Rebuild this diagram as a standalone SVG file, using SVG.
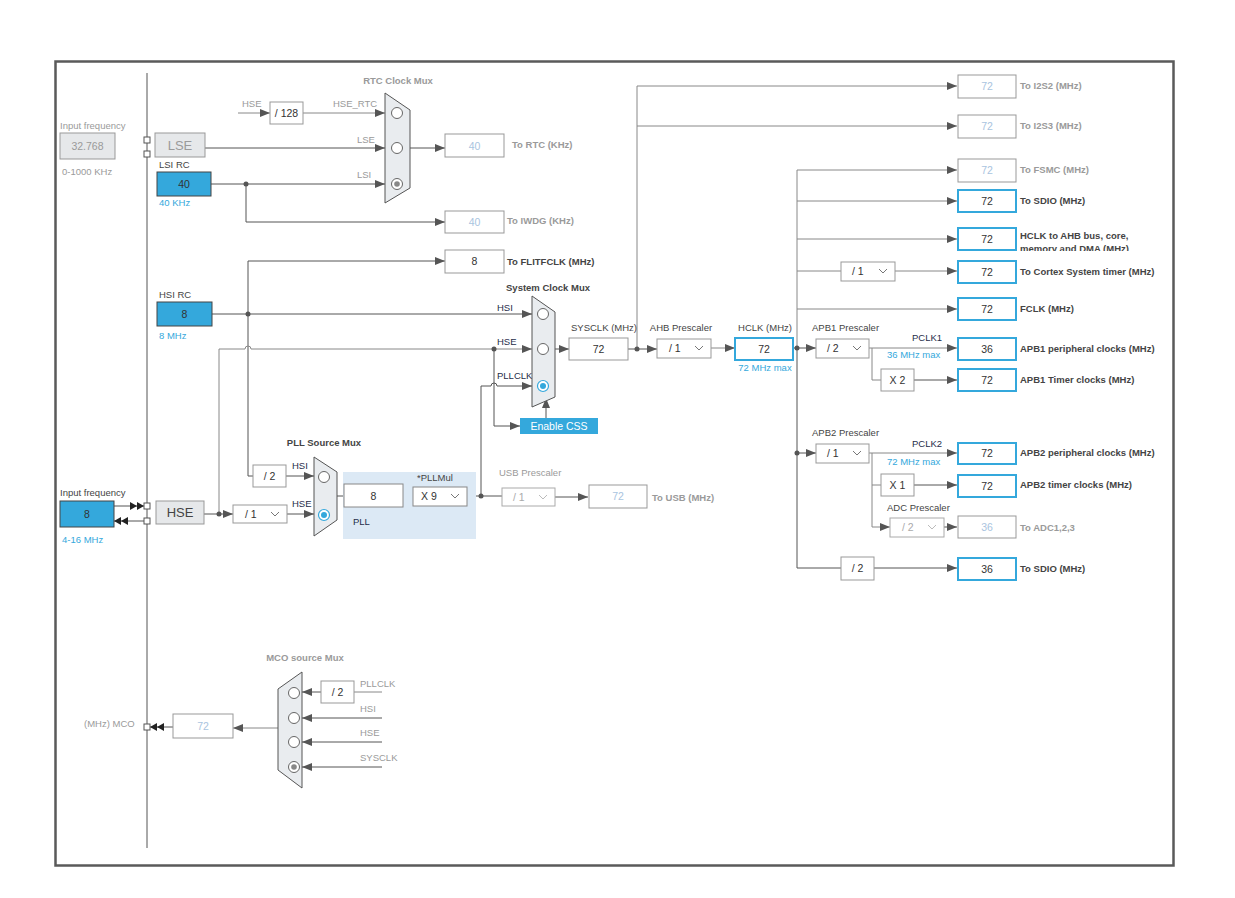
<svg xmlns="http://www.w3.org/2000/svg" width="1235" height="898" viewBox="0 0 1235 898">
<style>
text{font-family:"Liberation Sans",Arial,sans-serif;font-size:9.5px}
.g{fill:#9a9a9a}
.dk{fill:#444}
.nv{fill:#1f2d4a}
.bl{fill:#34a8dc}
.bd{font-weight:bold}
.m{text-anchor:middle}
.v{font-size:10.5px;text-anchor:middle;fill:#333}
.vl{font-size:10.5px;text-anchor:middle;fill:#a9c4e0}
.big{font-size:13px;text-anchor:middle}
.dd{font-size:10.5px;fill:#333}
.ddg{font-size:10.5px;fill:#aaa}
.ln{fill:none;stroke:#555;stroke-width:1}
.lg{fill:none;stroke:#888;stroke-width:1}
.bw{fill:#fff;stroke:#999;stroke-width:1}
.bwd{fill:#fff;stroke:#aaa;stroke-width:1}
.bb{fill:#fff;stroke:#34a8dc;stroke-width:2}
.bs{fill:#34a8dc;stroke:#444;stroke-width:1}
.gy{fill:#e6e8ea;stroke:#999;stroke-width:1}
.mx{fill:#e9ecef;stroke:#555;stroke-width:1}
.ci{fill:#fff;stroke:#666;stroke-width:1}
.cb{fill:#fff;stroke:#34a8dc;stroke-width:1.2}
.dot{fill:#555}
.ch{fill:none;stroke:#777;stroke-width:1}
.chg{fill:none;stroke:#bbb;stroke-width:1}
.pt{fill:#fff;stroke:#555;stroke-width:1}
</style>
<defs>
<marker id="a" viewBox="0 0 10 8" refX="10" refY="4" markerWidth="10" markerHeight="8" markerUnits="userSpaceOnUse" orient="auto"><path d="M0,0L10,4L0,8z" fill="#555"/></marker>
<marker id="a2" viewBox="0 0 14 8" refX="14" refY="4" markerWidth="14" markerHeight="8" markerUnits="userSpaceOnUse" orient="auto"><path d="M0,0L7,4L0,8zM7,0L14,4L7,8z" fill="#222"/></marker>
<clipPath id="clipH"><rect x="1015" y="225" width="150" height="26"/></clipPath>
</defs>
<rect x="0" y="0" width="1235" height="898" fill="#fff"/>
<rect x="55.5" y="61.5" width="1118" height="804" fill="#fff" stroke="#5a5a5a" stroke-width="2.5"/>
<line x1="147" y1="73" x2="147" y2="848" stroke="#555" stroke-width="1"/>

<g id="connectors">
<path class="lg" d="M238,113H270" marker-end="url(#a)"/>
<path class="lg" d="M303,113H385" marker-end="url(#a)"/>
<path class="ln" d="M205,148H385" marker-end="url(#a)"/>
<path class="ln" d="M211,184H385" marker-end="url(#a)"/>
<path class="ln" d="M246,184V222H445" marker-end="url(#a)"/>
<path class="ln" d="M410,148H445" marker-end="url(#a)"/>
<path class="ln" d="M212,314H532" marker-end="url(#a)"/>
<path class="ln" d="M248,314V261H445" marker-end="url(#a)"/>
<path class="ln" d="M248,314V476H253"/>
<path class="ln" d="M286,476H314" marker-end="url(#a)"/>
<path class="ln" d="M204,514H233" marker-end="url(#a)"/>
<path class="ln" d="M287,514H314" marker-end="url(#a)"/>
<path class="lg" d="M219,514V349H245a3,3 0 0 1 6,0H532" marker-end="url(#a)"/>
<path class="ln" d="M494,349V426H520" marker-end="url(#a)"/>
<path class="ln" d="M337,496H344"/>
<path class="ln" d="M403,496H413"/>
<path class="ln" d="M467,496H502"/>
<path class="ln" d="M481,496V386H491a3,3 0 0 1 6,0H532" marker-end="url(#a)"/>
<path class="ln" d="M555,497H588" marker-end="url(#a)"/>
<path class="ln" d="M546,418V398" marker-end="url(#a)"/>
<path class="ln" d="M555,349H569" marker-end="url(#a)"/>
<path class="ln" d="M628,349H657" marker-end="url(#a)"/>
<path class="lg" d="M637,349V86H957" marker-end="url(#a)"/>
<path class="lg" d="M637,126H957" marker-end="url(#a)"/>
<path class="lg" d="M711,348H735" marker-end="url(#a)"/>
<path class="ln" d="M793,348H816" marker-end="url(#a)"/>
<path class="lg" d="M797,348V170H957" marker-end="url(#a)"/>
<path class="lg" d="M797,201H957" marker-end="url(#a)"/>
<path class="lg" d="M797,239H957" marker-end="url(#a)"/>
<path class="lg" d="M797,271H841"/>
<path class="lg" d="M895,271H957" marker-end="url(#a)"/>
<path class="lg" d="M797,309H957" marker-end="url(#a)"/>
<path class="ln" d="M797,348V568H841"/>
<path class="ln" d="M874,568H957" marker-end="url(#a)"/>
<path class="ln" d="M797,453H816" marker-end="url(#a)"/>
<path class="lg" d="M869,348H957" marker-end="url(#a)"/>
<path class="lg" d="M872,348V380H881"/>
<path class="ln" d="M914,380H957" marker-end="url(#a)"/>
<path class="lg" d="M869,453H957" marker-end="url(#a)"/>
<path class="lg" d="M872,453V527H890" marker-end="url(#a)"/>
<path class="lg" d="M872,485H881"/>
<path class="ln" d="M914,485H957" marker-end="url(#a)"/>
<path class="ln" d="M944,527H957" marker-end="url(#a)"/>
<path class="lg" d="M382,692H354"/>
<path class="ln" d="M321,692H302" marker-end="url(#a)"/>
<path class="ln" d="M382,718H302" marker-end="url(#a)"/>
<path class="ln" d="M382,742H302" marker-end="url(#a)"/>
<path class="ln" d="M382,767H302" marker-end="url(#a)"/>
<path class="lg" d="M278,728H233" marker-end="url(#a)"/>
<path class="ln" d="M173,727H150" marker-end="url(#a2)"/>
<path class="ln" d="M114,506H144" marker-end="url(#a2)"/>
<path class="ln" d="M144,521H114" marker-end="url(#a2)"/>
<circle class="dot" cx="246" cy="184" r="2.5"/>
<circle class="dot" cx="248" cy="314" r="2.5"/>
<circle class="dot" cx="219" cy="514" r="2.5"/>
<circle class="dot" cx="494" cy="349" r="2.5"/>
<circle class="dot" cx="481" cy="496" r="2.5"/>
<circle class="dot" cx="637" cy="349" r="2.5"/>
<circle class="dot" cx="797" cy="348" r="2.5"/>
<circle class="dot" cx="797" cy="453" r="2.5"/>
</g>

<g id="bus-ports">
<rect class="pt" x="144" y="137" width="6" height="6"/>
<rect class="pt" x="144" y="151" width="6" height="6"/>
<rect class="pt" x="144" y="503" width="6" height="6"/>
<rect class="pt" x="144" y="518" width="6" height="6"/>
<rect class="pt" x="144" y="724" width="6" height="6"/>
</g>

<g id="lse-input">
<text class="g" x="60" y="129">Input frequency</text>
<rect class="gy" x="60" y="133" width="55" height="26"/>
<text class="g m" x="87.5" y="150" style="font-size:10.5px">32.768</text>
<text class="g" x="62" y="175">0-1000 KHz</text>
</g>
<g id="lse"><rect class="gy" x="155" y="133" width="50" height="24"/><text class="g big" x="180" y="150">LSE</text></g>
<g id="lsi-rc">
<text class="dk" x="159" y="168">LSI RC</text>
<rect class="bs" x="157" y="172" width="54" height="24"/>
<text class="v" x="184" y="188">40</text>
<text class="bl" x="159" y="206">40 KHz</text>
</g>
<g id="div128">
<text class="g" x="242" y="107">HSE</text>
<rect class="bw" x="270" y="102" width="33" height="22"/>
<text class="v" x="286.5" y="117">/ 128</text>
<text class="g" x="333" y="107">HSE_RTC</text>
<text class="g" x="357" y="143">LSE</text>
<text class="g" x="357" y="178">LSI</text>
</g>
<g id="rtc-mux">
<text class="g bd m" x="398" y="84">RTC Clock Mux</text>
<polygon class="mx" points="385,93 410,110 410,188 385,203"/>
<circle class="ci" cx="397" cy="113" r="5.5"/>
<circle class="ci" cx="397" cy="148" r="5.5"/>
<circle class="ci" cx="397" cy="184" r="5.5"/>
<circle cx="397" cy="184" r="2.8" fill="#888"/>
</g>
<g id="to-rtc"><rect class="bw" x="445" y="134" width="59" height="23"/><text class="vl" x="474.5" y="150">40</text><text class="g bd" x="512" y="148">To RTC (KHz)</text></g>
<g id="to-iwdg"><rect class="bw" x="445" y="211" width="59" height="22"/><text class="vl" x="474.5" y="226">40</text><text class="g bd" x="507" y="224">To IWDG (KHz)</text></g>
<g id="to-flitf"><rect class="bw" x="445" y="250" width="59" height="23"/><text class="v" x="474.5" y="265">8</text><text class="dk bd" x="507" y="265">To FLITFCLK (MHz)</text></g>

<g id="hsi-rc">
<text class="dk" x="159" y="298">HSI RC</text>
<rect class="bs" x="157" y="302" width="55" height="24"/>
<text class="v" x="184.5" y="318">8</text>
<text class="bl" x="159" y="339">8 MHz</text>
</g>

<g id="sys-mux">
<text class="dk bd m" x="548" y="291">System Clock Mux</text>
<text class="nv" x="497" y="311">HSI</text>
<text class="nv" x="497" y="345">HSE</text>
<text class="nv" x="497" y="379">PLLCLK</text>
<polygon class="mx" points="532,296 555,312 555,397 532,407"/>
<circle class="ci" cx="543" cy="314" r="5.5"/>
<circle class="ci" cx="543" cy="349" r="5.5"/>
<circle class="cb" cx="543" cy="386" r="5.5"/>
<circle cx="543" cy="386" r="3" fill="#34a8dc"/>
</g>
<g id="enable-css"><rect x="520" y="418" width="78" height="16" fill="#34a8dc"/><text class="m" x="559" y="430" fill="#fff" style="font-size:10.5px">Enable CSS</text></g>
<g id="sysclk"><text class="dk m" x="604" y="331">SYSCLK (MHz)</text><rect class="bw" x="569" y="338" width="59" height="22"/><text class="v" x="598.5" y="353">72</text></g>
<g id="ahb-pre"><text class="dk m" x="681" y="331">AHB Prescaler</text><rect class="bw" x="657" y="339" width="54" height="19"/><text class="dd" x="669" y="352">/ 1</text><path class="ch" d="M695,346l4,4l4,-4"/></g>
<g id="hclk"><text class="dk m" x="765" y="331">HCLK (MHz)</text><rect class="bb" x="735" y="338" width="58" height="22"/><text class="v" x="764" y="353">72</text><text class="bl m" x="765" y="371">72 MHz max</text></g>

<g id="to-i2s2"><rect class="bw" x="958" y="75" width="58" height="23"/><text class="vl" x="987" y="90">72</text><text class="g bd" x="1020" y="89">To I2S2 (MHz)</text></g>
<g id="to-i2s3"><rect class="bw" x="958" y="115" width="58" height="23"/><text class="vl" x="987" y="130">72</text><text class="g bd" x="1020" y="129">To I2S3 (MHz)</text></g>
<g id="to-fsmc"><rect class="bw" x="958" y="159" width="58" height="23"/><text class="vl" x="987" y="174">72</text><text class="g bd" x="1020" y="173">To FSMC (MHz)</text></g>
<g id="to-sdio"><rect class="bb" x="958" y="190" width="58" height="22"/><text class="v" x="987" y="205">72</text><text class="dk bd" x="1020" y="204">To SDIO (MHz)</text></g>
<g id="hclk-ahb"><rect class="bb" x="958" y="228" width="58" height="22"/><text class="v" x="987" y="243">72</text><g clip-path="url(#clipH)"><text class="dk bd" x="1020" y="239">HCLK to AHB bus, core,</text><text class="dk bd" x="1020" y="252">memory and DMA (MHz)</text></g></g>
<g id="cortex-pre"><rect class="bw" x="841" y="262" width="54" height="19"/><text class="dd" x="852" y="275">/ 1</text><path class="ch" d="M879,269l4,4l4,-4"/></g>
<g id="to-cortex"><rect class="bb" x="958" y="261" width="58" height="22"/><text class="v" x="987" y="276">72</text><text class="dk bd" x="1020" y="275">To Cortex System timer (MHz)</text></g>
<g id="fclk"><rect class="bb" x="958" y="298" width="58" height="22"/><text class="v" x="987" y="313">72</text><text class="dk bd" x="1020" y="312">FCLK (MHz)</text></g>
<g id="apb1-pre"><text class="dk" x="812" y="331">APB1 Prescaler</text><rect class="bw" x="816" y="339" width="53" height="19"/><text class="dd" x="827" y="352">/ 2</text><path class="ch" d="M853,346l4,4l4,-4"/><text class="nv" x="912" y="341">PCLK1</text><text class="bl" x="887" y="358">36 MHz max</text></g>
<g id="apb1-periph"><rect class="bb" x="958" y="338" width="58" height="22"/><text class="v" x="987" y="353">36</text><text class="dk bd" x="1020" y="352">APB1 peripheral clocks (MHz)</text></g>
<g id="x2"><rect class="bw" x="881" y="369" width="33" height="22"/><text class="v" x="897.5" y="384">X 2</text></g>
<g id="apb1-timer"><rect class="bb" x="958" y="369" width="58" height="22"/><text class="v" x="987" y="384">72</text><text class="dk bd" x="1020" y="383">APB1 Timer clocks (MHz)</text></g>
<g id="apb2-pre"><text class="dk" x="812" y="436">APB2 Prescaler</text><rect class="bw" x="816" y="444" width="53" height="19"/><text class="dd" x="827" y="457">/ 1</text><path class="ch" d="M853,451l4,4l4,-4"/><text class="nv" x="912" y="447">PCLK2</text><text class="bl" x="887" y="465">72 MHz max</text></g>
<g id="apb2-periph"><rect class="bb" x="958" y="443" width="58" height="21"/><text class="v" x="987" y="457">72</text><text class="dk bd" x="1020" y="456">APB2 peripheral clocks (MHz)</text></g>
<g id="x1"><rect class="bw" x="881" y="474" width="33" height="22"/><text class="v" x="897.5" y="489">X 1</text></g>
<g id="apb2-timer"><rect class="bb" x="958" y="475" width="58" height="22"/><text class="v" x="987" y="490">72</text><text class="dk bd" x="1020" y="488">APB2 timer clocks (MHz)</text></g>
<g id="adc-pre"><text class="dk" x="887" y="511">ADC Prescaler</text><rect class="bwd" x="890" y="518" width="54" height="19"/><text class="ddg" x="902" y="531">/ 2</text><path class="chg" d="M928,525l4,4l4,-4"/></g>
<g id="to-adc"><rect class="bw" x="958" y="516" width="58" height="22"/><text class="vl" x="987" y="531">36</text><text class="g bd" x="1020" y="531">To ADC1,2,3</text></g>
<g id="sdio-div"><rect class="bw" x="841" y="557" width="33" height="23"/><text class="v" x="857.5" y="572">/ 2</text></g>
<g id="to-sdio2"><rect class="bb" x="958" y="558" width="58" height="22"/><text class="v" x="987" y="573">36</text><text class="dk bd" x="1020" y="572">To SDIO (MHz)</text></g>

<g id="hse-input">
<text class="dk" x="60" y="496">Input frequency</text>
<rect class="bs" x="60" y="501" width="54" height="26"/>
<text class="v" x="87" y="518">8</text>
<text class="bl" x="62" y="543">4-16 MHz</text>
</g>
<g id="hse"><rect class="gy" x="156" y="501" width="48" height="23"/><text class="big" x="180" y="517" fill="#444">HSE</text></g>
<g id="hse-pre"><rect class="bw" x="233" y="505" width="54" height="18"/><text class="dd" x="245" y="518">/ 1</text><path class="ch" d="M271,512l4,4l4,-4"/></g>
<g id="hsi-div2"><rect class="bw" x="253" y="465" width="33" height="22"/><text class="v" x="269.5" y="480">/ 2</text></g>
<g id="pll-mux">
<text class="dk bd m" x="324" y="446">PLL Source Mux</text>
<text class="nv" x="292" y="469">HSI</text>
<text class="nv" x="292" y="507">HSE</text>
<polygon class="mx" points="314,457 337,472 337,520 314,536"/>
<circle class="ci" cx="324" cy="477" r="5.5"/>
<circle class="cb" cx="324" cy="515" r="5.5"/>
<circle cx="324" cy="515" r="3" fill="#34a8dc"/>
</g>
<g id="pll">
<rect x="343" y="472" width="133" height="67" fill="#dce9f5"/>
<rect class="bw" x="344" y="484" width="59" height="23" style="stroke:#888"/>
<text class="v" x="373.5" y="500">8</text>
<text class="dk" x="417" y="481">*PLLMul</text>
<rect class="bw" x="413" y="487" width="54" height="19" style="stroke:#888"/>
<text class="dd" x="421" y="500">X 9</text>
<path class="ch" d="M451,494l4,4l4,-4"/>
<text class="nv" x="353" y="525">PLL</text>
</g>
<g id="usb-pre"><text class="g" x="499" y="476">USB Prescaler</text><rect class="bwd" x="502" y="488" width="53" height="18"/><text class="ddg" x="513" y="501">/ 1</text><path class="chg" d="M539,495l4,4l4,-4"/></g>
<g id="to-usb"><rect class="bw" x="589" y="485" width="58" height="23"/><text class="vl" x="618" y="500">72</text><text class="g bd" x="652" y="501">To USB (MHz)</text></g>

<g id="mco-mux">
<text class="g bd m" x="305" y="661">MCO source Mux</text>
<polygon class="mx" points="278,689 302,672 302,788 278,770"/>
<circle class="ci" cx="294" cy="693" r="5.5"/>
<circle class="ci" cx="294" cy="718" r="5.5"/>
<circle class="ci" cx="294" cy="742" r="5.5"/>
<circle class="ci" cx="294" cy="767" r="5.5"/>
<circle cx="294" cy="767" r="2.8" fill="#888"/>
<text class="g" x="360" y="687">PLLCLK</text>
<text class="g" x="360" y="712">HSI</text>
<text class="g" x="360" y="736">HSE</text>
<text class="g" x="360" y="761">SYSCLK</text>
</g>
<g id="mco-div2"><rect class="bw" x="321" y="681" width="33" height="22"/><text class="v" x="337.5" y="696">/ 2</text></g>
<g id="mco"><rect class="bw" x="173" y="714" width="60" height="24"/><text class="vl" x="203" y="730">72</text><text class="g" x="84" y="727">(MHz) MCO</text></g>
</svg>
